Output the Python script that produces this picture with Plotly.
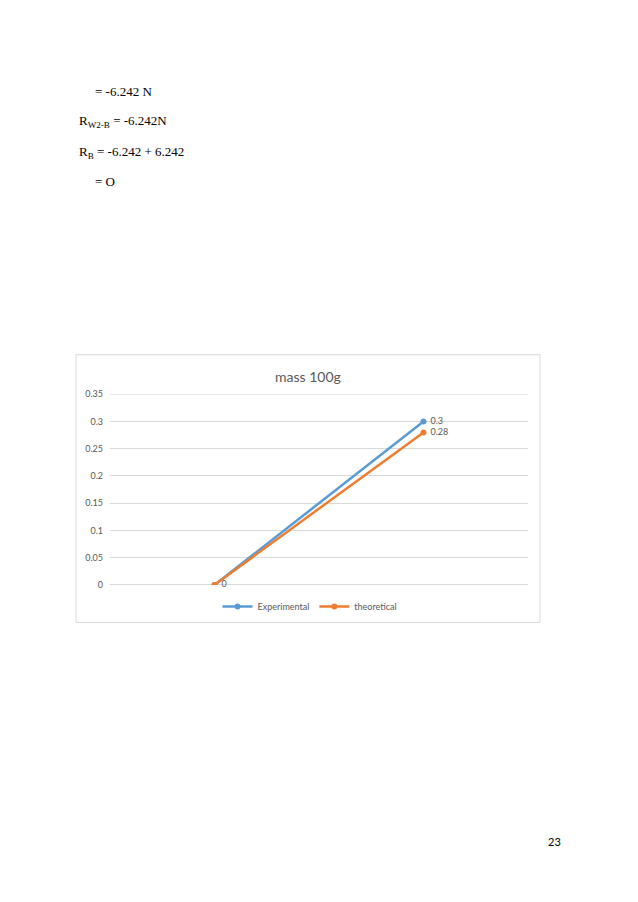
import plotly.graph_objects as go

experimental = [0, 0.3]
theoretical = [0, 0.28]
exp_labels = ["0", "0.3"]
theo_labels = ["0", "0.28"]
y_ticks = [0, 0.05, 0.1, 0.15, 0.2, 0.25, 0.3, 0.35]
y_tick_text = ["0", "0.05", "0.1", "0.15", "0.2", "0.25", "0.3", "0.35"]
page_lines = [
    ("= -6.242 N", 93, 86),
    ("R<sub>W2-B</sub> = -6.242N", 77, 117),
    ("R<sub>B</sub> = -6.242 + 6.242", 77, 148),
    ("= O", 93, 178),
]

OFF = 8  # default body margin of the page
W, H = 638 - OFF, 902 - OFF
BLUE = "#5b9bd5"
ORANGE = "#ed7d31"
GREY = "#595959"
CF = "Lato, 'Open Sans', sans-serif"

px = lambda v: (v - OFF) / W
py = lambda v: 1 - (v - OFF) / H

fig = go.Figure()
fig.add_trace(go.Scatter(
    x=[0, 1], y=experimental, name="Experimental", mode="lines+markers",
    line=dict(color=BLUE, width=2.5), marker=dict(color=BLUE, size=6),
))
fig.add_trace(go.Scatter(
    x=[0, 1], y=theoretical, name="theoretical", mode="lines+markers",
    line=dict(color=ORANGE, width=2.5), marker=dict(color=ORANGE, size=6),
))
# data labels (Experimental at 0 is hidden under theoretical's "0")
fig.add_trace(go.Scatter(
    x=[1, 0, 1], y=[experimental[1], theoretical[0], theoretical[1]],
    text=[exp_labels[1], theo_labels[0], theo_labels[1]],
    mode="text", texttemplate="   %{text}", textposition="middle right",
    textfont=dict(family=CF, size=9, color=GREY), showlegend=False,
    cliponaxis=False, hoverinfo="skip",
))

fig.add_shape(type="rect", xref="paper", yref="paper",
              x0=px(76), x1=px(540), y0=py(624), y1=py(353),
              line=dict(color="#d9d9d9", width=1), fillcolor="rgba(0,0,0,0)", layer="below")

for txt, x, y in page_lines:
    fig.add_annotation(text=txt, xref="paper", yref="paper", x=px(x), y=py(y),
                       xanchor="left", yanchor="middle", showarrow=False,
                       font=dict(family="Liberation Serif", size=13, color="black"))

fig.add_annotation(text="23", xref="paper", yref="paper", x=px(554), y=py(846),
                   xanchor="center", yanchor="middle", showarrow=False,
                   font=dict(family=CF, size=11, color="black"))

fig.add_annotation(text="mass 100g", xref="paper", yref="paper", x=px(308), y=py(375),
                   xanchor="center", yanchor="middle", showarrow=False,
                   font=dict(family=CF, size=14, color=GREY))

fig.update_layout(
    width=W, height=H, margin=dict(l=0, r=0, t=0, b=0),
    paper_bgcolor="white", plot_bgcolor="white",
    showlegend=True,
    legend=dict(orientation="h", x=px(310), y=py(608), xanchor="center", yanchor="middle",
                font=dict(family=CF, size=9, color=GREY), itemwidth=30, tracegroupgap=0),
    xaxis=dict(domain=[px(110), px(528)], range=[-0.5, 1.5], showticklabels=False,
               showgrid=False, zeroline=False, showline=False, fixedrange=True),
    yaxis=dict(domain=[py(586), py(393)], range=[0, 0.35], tickvals=y_ticks,
               ticktext=y_tick_text, showgrid=True, gridcolor="#d9d9d9", gridwidth=1,
               zeroline=True, zerolinecolor="#d9d9d9", zerolinewidth=1,
               showline=False, ticks="", ticklabelstandoff=6,
               tickfont=dict(family=CF, size=9, color=GREY)),
)
# top gridline at 0.35 (edge of the range)
fig.add_shape(type="line", xref="x domain", yref="y", x0=0, x1=1, y0=0.35, y1=0.35,
              line=dict(color="#d9d9d9", width=1), layer="below")

fig.write_html("out.html")
